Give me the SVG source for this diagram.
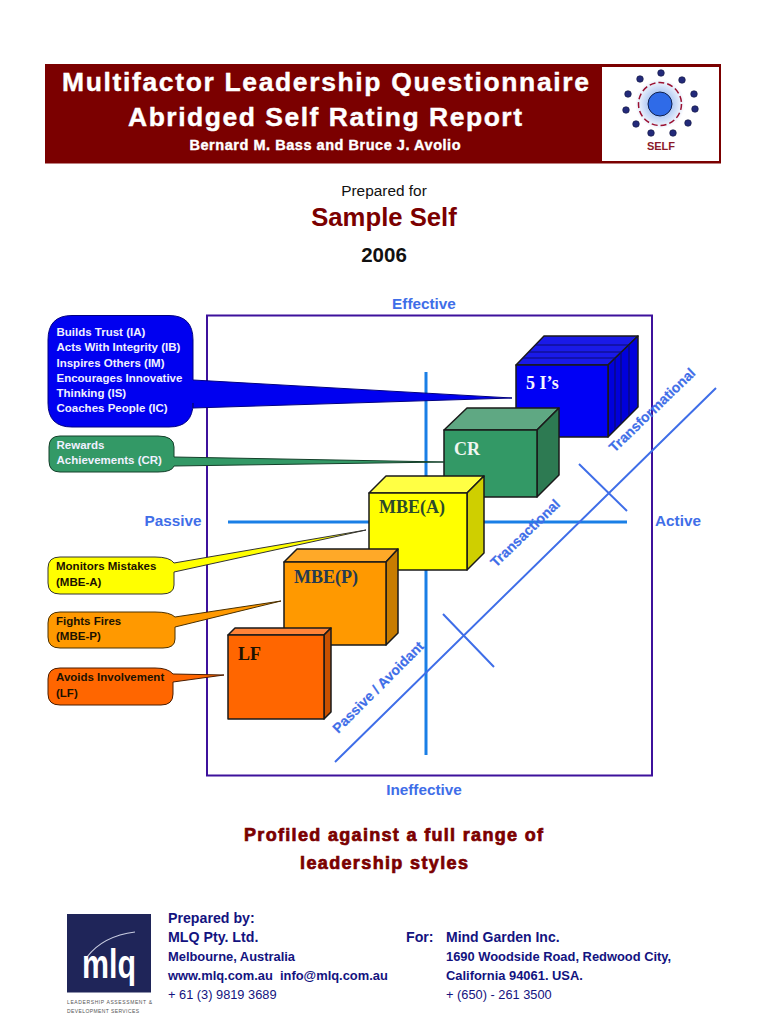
<svg xmlns="http://www.w3.org/2000/svg" width="768" height="1024" viewBox="0 0 768 1024">
<style>
text{font-family:"Liberation Sans",Arial,sans-serif}
.b{font-weight:bold}
.t{fill:#fff;font-weight:bold;text-anchor:middle;stroke:#fff;stroke-width:.4}
.ax{fill:#3f6ee8;font-weight:bold;font-size:15.300px;text-anchor:middle}
.ad{fill:#3f6ee8;font-weight:bold;font-size:14px;text-anchor:middle;stroke:#3f6ee8;stroke-width:.2}
.cw{fill:#f0f0ff;font-weight:bold;font-size:11.500px}
.ck{fill:#1c1200;font-weight:bold;font-size:11.500px}
.bx{font-family:"Liberation Serif",serif;font-weight:bold;font-size:18px}
.e{stroke:#1a1a1a;stroke-width:1.500;stroke-linejoin:round}
.c{stroke:#0a0a70;stroke-width:1.200;fill:none}
.d{fill:#232a7a;stroke:#10143c;stroke-width:.6}
.axis{stroke:#1a7fe6;stroke-width:3;fill:none}
.dg{stroke:#3f6ee8;stroke-width:2;fill:none}
.f{fill:#13137f;font-weight:bold}
</style>
<defs>
<radialGradient id="glow"><stop offset="0.4" stop-color="#a9c4f2"/><stop offset="1" stop-color="#fff"/></radialGradient>
</defs>
<rect width="768" height="1024" fill="#fff"/>
<g id="banner">
<rect x="45" y="64" width="676" height="99.500" fill="#7b0000"/>
<rect x="602" y="67" width="117" height="94" fill="#fff"/>
<text class="t" x="325.500" y="91" font-size="26.500" textLength="527">Multifactor Leadership Questionnaire</text>
<text class="t" x="325" y="126" font-size="26.500" textLength="394">Abridged Self Rating Report</text>
<text class="t" x="325" y="150" font-size="14.500" textLength="271">Bernard M. Bass and Bruce J. Avolio</text>
<circle cx="660" cy="104" r="25" fill="url(#glow)"/>
<circle cx="660" cy="104" r="21.500" fill="none" stroke="#9b1030" stroke-width="1.500" stroke-dasharray="6 3"/>
<circle cx="660" cy="104" r="12" fill="#2f6be8" stroke="#10204c"/>
<g>
<circle class="d" cx="661" cy="73" r="3.300"/><circle class="d" cx="640" cy="79" r="3.300"/><circle class="d" cx="682" cy="80" r="3.300"/><circle class="d" cx="628" cy="94" r="3.300"/><circle class="d" cx="694" cy="94" r="3.300"/><circle class="d" cx="626" cy="110" r="3.300"/><circle class="d" cx="695" cy="109" r="3.300"/><circle class="d" cx="636" cy="124" r="3.300"/><circle class="d" cx="688" cy="123" r="3.300"/><circle class="d" cx="651" cy="133" r="3.300"/><circle class="d" cx="673" cy="133" r="3.300"/>
</g>
<text x="661" y="150" font-size="11" class="b" fill="#8b1a2a" text-anchor="middle">SELF</text>
</g>
<g id="heading" text-anchor="middle">
<text x="384" y="196" font-size="15.400" fill="#111">Prepared for</text>
<text x="384" y="226" font-size="25.700" class="b" fill="#7b0000">Sample Self</text>
<text x="384" y="262" font-size="20.500" class="b" fill="#111">2006</text>
</g>
<g id="frame">
<rect x="207" y="315.500" width="445" height="460" fill="none" stroke="#3d119c" stroke-width="2"/>
</g>
<g id="connectors">
<path class="axis" d="M426 372V755M228 522H627"/>
<path class="dg" d="M335 762L716 388M579 464L627 511M443 614L494 667"/>
</g>
<g id="axis-labels">
<text class="ax" x="424" y="309">Effective</text>
<text class="ax" x="424" y="795">Ineffective</text>
<text class="ax" x="173" y="526">Passive</text>
<text class="ax" x="678" y="526">Active</text>
<text class="ad" transform="translate(652 410) rotate(-44)" y="5">Transformational</text>
<text class="ad" transform="translate(525 533) rotate(-44)" y="5">Transactional</text>
<text class="ad" transform="translate(378 687) rotate(-45)" y="5">Passive / Avoidant</text>
</g>
<g id="box-5is">
<path class="e" fill="#1a1ae8" d="M516 365L544 336H638L608 365Z"/>
<path class="c" d="M523 358H615M529 352H621M535 345H629"/>
<path class="e" fill="#0000dc" d="M608 365L638 336V407L608 437Z"/>
<path class="c" d="M615 358V430M621 352V424M629 345V415"/>
<rect class="e" x="516" y="365" width="92" height="72" fill="#0000f5"/>
<text class="bx" x="526" y="389" fill="#f4f4ff">5 I’s</text>
</g>
<g id="box-cr">
<path class="e" fill="#5fa883" d="M444 430L467 408H559L537 430Z"/>
<path class="e" fill="#2d7a52" d="M537 430L559 408V475L537 497Z"/>
<rect class="e" x="444" y="430" width="93" height="67" fill="#339966"/>
<text class="bx" x="454" y="455" fill="#f0f5f0">CR</text>
</g>
<g id="box-mbea">
<path class="e" fill="#ffff44" d="M369 493L386 476H484L467 493Z"/>
<path class="e" fill="#cfcf00" d="M467 493L484 476V553L467 570Z"/>
<rect class="e" x="369" y="493" width="98" height="77" fill="#ffff00"/>
<text class="bx" x="379" y="513" fill="#2c4a2c">MBE(A)</text>
</g>
<g id="box-mbep">
<path class="e" fill="#ffa928" d="M284 562L297 549H398L386 562Z"/>
<path class="e" fill="#c87c00" d="M386 562L398 549V633L386 645Z"/>
<rect class="e" x="284" y="562" width="102" height="83" fill="#ff9900"/>
<text class="bx" x="294" y="583" fill="#243a52">MBE(P)</text>
</g>
<g id="box-lf">
<path class="e" fill="#ff8438" d="M228 635L235 628H331L324 635Z"/>
<path class="e" fill="#c85000" d="M324 635L331 628V712L324 719Z"/>
<rect class="e" x="228" y="635" width="96" height="84" fill="#ff6600"/>
<text class="bx" x="238" y="660" fill="#1c1200">LF</text>
</g>
<g id="callout-5is">
<path fill="#0000f0" stroke="#000080" d="M72 315.500H169Q193 315.500 193 340V380L512 398L193 408V403Q193 427 169 427H72Q48 427 48 403V340Q48 315.500 72 315.500Z"/>
<text class="cw" x="56.500" y="336">Builds Trust (IA)</text>
<text class="cw" x="56.500" y="351">Acts With Integrity (IB)</text>
<text class="cw" x="56.500" y="367">Inspires Others (IM)</text>
<text class="cw" x="56.500" y="382">Encourages Innovative</text>
<text class="cw" x="56.500" y="397">Thinking (IS)</text>
<text class="cw" x="56.500" y="412">Coaches People (IC)</text>
</g>
<g id="callout-cr">
<path fill="#339966" stroke="#14402a" d="M60 436H158Q174 436 174 447V457L444 462L174 466Q172 472 158 472H60Q49 472 49 461V447Q49 436 60 436Z"/>
<text class="cw" x="56.500" y="449">Rewards</text>
<text class="cw" x="56.500" y="464">Achievements (CR)</text>
</g>
<g id="callout-mbea">
<path fill="#ffff00" stroke="#333" stroke-width="1" d="M60 557H155Q170 557 174 563L366 530L174 572V585Q174 594 162 594H60Q48 594 48 583V568Q48 557 60 557Z"/>
<text class="ck" x="56" y="570">Monitors Mistakes</text>
<text class="ck" x="56" y="586">(MBE-A)</text>
</g>
<g id="callout-mbep">
<path fill="#ff9900" stroke="#4a3000" d="M60 612H155Q170 612 175 617L281 601L175 627V639Q175 648 163 648H60Q48 648 48 637V623Q48 612 60 612Z"/>
<text class="ck" x="56" y="625">Fights Fires</text>
<text class="ck" x="56" y="640">(MBE-P)</text>
</g>
<g id="callout-lf">
<path fill="#ff6600" stroke="#4a1c00" d="M60 668H155Q168 668 173 674L224 675L173 682V694Q173 705 161 705H60Q48 705 48 694V679Q48 668 60 668Z"/>
<text class="ck" x="56" y="681">Avoids Involvement</text>
<text class="ck" x="56" y="697">(LF)</text>
</g>
<g id="tagline" text-anchor="middle" fill="#7b0000" stroke="#7b0000" stroke-width=".7" font-weight="bold" font-size="18">
<text x="393.500" y="841" textLength="299">Profiled against a full range of</text>
<text x="384" y="869" textLength="168">leadership styles</text>
</g>
<g id="mlq-logo">
<rect x="67" y="914" width="84" height="78.500" fill="#1f2559"/>
<path d="M87 957Q103 936 135 932" stroke="#c8cce0" stroke-width="1.200" fill="none"/>
<text x="109" y="978" font-size="40" font-weight="bold" fill="#fff" text-anchor="middle" textLength="54" lengthAdjust="spacingAndGlyphs">mlq</text>
<text x="67" y="1004" font-size="5" fill="#555" textLength="85">LEADERSHIP ASSESSMENT &amp;</text>
<text x="67" y="1013" font-size="5" fill="#555" textLength="72">DEVELOPMENT SERVICES</text>
</g>
<g id="footer">
<text class="f" x="168" y="923" font-size="14.200">Prepared by:</text>
<text class="f" x="168" y="942" font-size="14.200">MLQ Pty. Ltd.</text>
<text class="f" x="168" y="961" font-size="12.900">Melbourne, Australia</text>
<text class="f" x="168" y="980" font-size="12.900" xml:space="preserve">www.mlq.com.au  info@mlq.com.au</text>
<text x="168" y="999" font-size="12.800" fill="#13137f">+ 61 (3) 9819 3689</text>
<text class="f" x="406" y="942" font-size="14.200">For:</text>
<text class="f" x="446" y="942" font-size="14">Mind Garden Inc.</text>
<text class="f" x="446" y="961" font-size="12.900">1690 Woodside Road, Redwood City,</text>
<text class="f" x="446" y="980" font-size="12.900">California 94061. USA.</text>
<text x="446" y="999" font-size="12.800" fill="#13137f">+ (650) - 261 3500</text>
</g>
</svg>
